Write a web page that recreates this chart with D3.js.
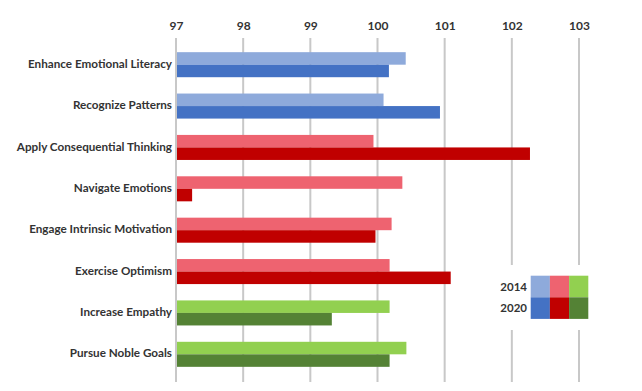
<!DOCTYPE html>
<html>
<head>
<meta charset="utf-8">
<script src="https://cdn.jsdelivr.net/npm/d3@7"></script>
<style>
  body { margin: 0; background: #fff; }
  #plot text { font-family: Lato, "Open Sans", sans-serif; fill: #333; }
</style>
</head>
<body>
<div id="plot"></div>
<script>
// data
const categories = [
  "Enhance Emotional Literacy",
  "Recognize Patterns",
  "Apply Consequential Thinking",
  "Navigate Emotions",
  "Engage Intrinsic Motivation",
  "Exercise Optimism",
  "Increase Empathy",
  "Pursue Noble Goals"
];
const years = ["2014", "2020"];
const values2014 = [100.42, 100.09, 99.94, 100.37, 100.21, 100.18, 100.18, 100.43];
const values2020 = [100.17, 100.93, 102.27, 97.24, 99.97, 101.09, 99.32, 100.18];
const groupOf = ["blue", "blue", "red", "red", "red", "red", "green", "green"];
const tickValues = [97, 98, 99, 100, 101, 102, 103];

const palette = {
  blue:  {"2014": "#8eaadb", "2020": "#4472c4"},
  red:   {"2014": "#ee6370", "2020": "#c00000"},
  green: {"2014": "#92d050", "2020": "#548235"}
};

const rows = categories.map((c, i) => ({
  name: c, group: groupOf[i],
  vals: [{year: "2014", v: values2014[i]}, {year: "2020", v: values2020[i]}]
}));

const width = 642, height = 391;

const svg = d3.select("#plot").append("svg")
  .attr("width", width)
  .attr("height", height);

const x = d3.scaleLinear().domain([97, 103]).range([176, 579]);

const y = d3.scaleBand()
  .domain(categories)
  .range([44, 375])
  .paddingInner(0.395)
  .paddingOuter(0.1975);

const yInner = d3.scaleBand().domain(years).range([0, y.bandwidth()]);

// grid lines + top tick labels
const axis = d3.axisTop(x).tickValues(tickValues).tickSize(0).tickPadding(0).tickFormat(d3.format("d"));
const ax = svg.append("g").attr("transform", "translate(0,30)").call(axis);
ax.select(".domain").remove();
ax.selectAll("text")
  .style("font-size", "12px")
  .style("font-weight", "bold")
  .attr("fill", "#333");

svg.append("g")
  .selectAll("line")
  .data(tickValues)
  .join("line")
  .attr("x1", d => x(d)).attr("x2", d => x(d))
  .attr("y1", 38).attr("y2", 382)
  .attr("stroke", "#c8c8c8")
  .attr("stroke-width", 2);

// bars
const g = svg.append("g")
  .selectAll("g")
  .data(rows)
  .join("g")
  .attr("transform", d => "translate(0," + y(d.name) + ")");

g.selectAll("rect")
  .data(d => d.vals.map(v => ({...v, group: d.group})))
  .join("rect")
  .attr("x", x(97) + 1)
  .attr("y", d => yInner(d.year))
  .attr("width", d => x(d.v) - x(97) - 1)
  .attr("height", yInner.bandwidth())
  .attr("fill", d => palette[d.group][d.year]);

// category labels
svg.append("g")
  .selectAll("text")
  .data(categories)
  .join("text")
  .attr("x", 172)
  .attr("y", d => y(d) + y.bandwidth() / 2 - 1)
  .attr("dy", "0.35em")
  .attr("text-anchor", "end")
  .style("font-size", "11.7px")
  .style("font-weight", "bold")
  .text(d => d);

// legend
const legend = svg.append("g");
legend.append("rect")
  .attr("x", 498).attr("y", 265)
  .attr("width", 96).attr("height", 65)
  .attr("fill", "#fff");

const groups = ["blue", "red", "green"];
const cellW = 19.2, cellH = 21.6;
years.forEach((yr, r) => {
  groups.forEach((gr, c) => {
    legend.append("rect")
      .attr("x", 530.7 + c * cellW)
      .attr("y", 275.7 + r * cellH)
      .attr("width", cellW)
      .attr("height", cellH)
      .attr("fill", palette[gr][yr]);
  });
  legend.append("text")
    .attr("x", 527)
    .attr("y", 275.7 + r * cellH + cellH / 2)
    .attr("dy", "0.35em")
    .attr("text-anchor", "end")
    .style("font-size", "11.5px")
    .style("font-weight", "bold")
    .text(yr);
});
</script>
</body>
</html>
